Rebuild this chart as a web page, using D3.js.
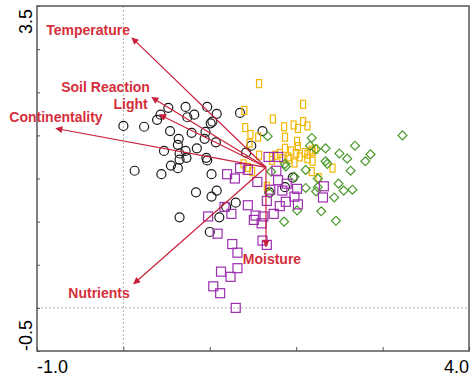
<!DOCTYPE html>
<html>
<head>
<meta charset="utf-8">
<script src="https://cdn.jsdelivr.net/npm/d3@7"></script>
<style>
	body { margin: 0; background: #fff; }
	svg { display: block; font-family: 'Liberation Sans', Arial, sans-serif; }
</style>
</head>
<body>
<div class="vis"></div>
<script>
'use strict';

// site groups, [axis 1, axis 2] scores
var blackSites = [
	[0.00, 2.11], [0.24, 2.10], [0.43, 2.24], [0.39, 2.18], [0.52, 2.32], [0.72, 2.33],
	[0.97, 2.33], [1.08, 2.25], [0.74, 2.21], [0.82, 2.24], [1.03, 2.16], [1.01, 2.14],
	[0.54, 2.05], [0.79, 2.03], [0.95, 2.04], [0.64, 1.96], [0.63, 1.89], [0.94, 1.96],
	[1.07, 1.92], [0.47, 1.82], [0.85, 1.85], [0.72, 1.82], [0.65, 1.79], [0.73, 1.74],
	[0.65, 1.72], [0.96, 1.74], [0.97, 1.71], [0.55, 1.65], [0.63, 1.62], [0.13, 1.59],
	[0.44, 1.55], [1.02, 1.55], [0.84, 1.34], [1.08, 1.36], [1.02, 1.29], [1.30, 1.22],
	[1.19, 1.17], [0.65, 1.05], [1.11, 1.05], [1.00, 0.88], [1.35, 2.26], [1.61, 2.05],
	[1.48, 1.88], [1.42, 1.80], [1.69, 1.34], [1.87, 1.40], [1.96, 1.51]
];

var yellowSites = [
	[1.57, 2.60], [1.40, 2.29], [2.08, 2.36], [1.73, 2.19], [1.41, 2.09], [1.86, 2.10],
	[1.97, 2.12], [2.02, 2.08], [2.08, 2.16], [2.13, 2.11], [1.47, 2.01], [1.56, 1.98],
	[1.87, 1.98], [2.01, 1.93], [1.46, 1.91], [1.87, 1.85], [1.94, 1.82], [2.02, 1.87],
	[2.00, 1.79], [2.13, 1.78], [2.18, 1.83], [2.22, 1.84], [2.19, 1.81], [1.57, 1.77],
	[1.72, 1.75], [1.76, 1.77], [1.91, 1.75], [2.04, 1.75], [1.72, 1.71], [1.84, 1.73],
	[1.92, 1.72], [2.13, 1.73], [2.19, 1.70], [1.39, 1.67], [1.49, 1.58], [2.18, 1.58],
	[2.42, 1.62], [2.26, 1.51], [1.66, 1.41], [1.98, 1.68], [1.44, 1.63], [1.81, 1.79],
	[2.10, 1.80]
];

var greenSites = [
	[3.23, 2.00], [2.18, 1.97], [2.16, 1.88], [2.23, 1.84], [2.34, 1.85], [2.68, 1.88],
	[2.50, 1.79], [2.86, 1.78], [2.59, 1.73], [2.80, 1.70], [2.34, 1.70], [2.36, 1.67],
	[2.63, 1.59], [2.11, 1.60], [2.25, 1.50], [2.49, 1.44], [1.98, 1.52], [2.11, 1.39],
	[2.25, 1.40], [2.23, 1.35], [2.55, 1.36], [2.65, 1.37], [2.44, 1.28], [2.29, 1.12],
	[2.01, 1.13], [2.46, 1.01], [1.67, 1.99], [1.88, 1.64], [1.71, 1.58], [1.69, 1.33],
	[1.86, 1.00], [1.87, 1.67]
];

var purpleSites = [
	[1.68, 1.75], [1.79, 1.75], [1.35, 1.62], [1.44, 1.60], [1.77, 1.59], [1.20, 1.55],
	[1.29, 1.50], [1.55, 1.46], [1.79, 1.48], [1.89, 1.44], [2.01, 1.38], [1.70, 1.37],
	[1.84, 1.36], [2.32, 1.41], [2.31, 1.28], [1.66, 1.24], [1.88, 1.23], [1.98, 1.29],
	[2.02, 1.20], [1.81, 1.18], [1.44, 1.19], [1.53, 1.07], [1.62, 1.06], [1.74, 1.09],
	[1.51, 1.02], [1.60, 0.98], [1.25, 1.09], [0.98, 1.06], [1.17, 1.17], [1.09, 0.86],
	[1.61, 0.78], [1.66, 0.73], [1.26, 0.74], [1.32, 0.64], [1.13, 0.42], [1.32, 0.46],
	[1.24, 0.36], [1.04, 0.25], [1.12, 0.17], [1.30, 0.00]
];

// environmental vectors, all drawn from one common origin
var vectorOrigin = [1.65, 1.63];
var vectorNames = ['Temperature', 'Soil Reaction', 'Light', 'Continentality', 'Nutrients', 'Moisture'];
var vectorEnds = [[0.10, 3.13], [0.33, 2.44], [0.42, 2.24], [-0.78, 2.08], [0.12, 0.28], [1.65, 0.71]];

var xDomain = [-1, 4];
var yDomain = [-0.5, 3.5];
var xTickLabels = ['-1.0', '4.0'];
var yTickLabels = ['-0.5', '3.5'];

(function ( window, document, undefined ) {

	var width = 474;
	var height = 384;
	var margin = { top: 6, right: 5, bottom: 33, left: 37 };

	var lineColor = '#c8203a';
	var textColor = '#d42f3b';

	// label placement relative to each arrow tip: anchor, dx, dy
	var labelPlace = {
		'Temperature': ['end', -2, -3],
		'Soil Reaction': ['end', -2, -5],
		'Light': ['end', -12, -6],
		'Continentality': ['middle', 0, -6],
		'Nutrients': ['end', -4, 14],
		'Moisture': ['middle', 6, 17]
	};

	var svg = d3.select('.vis')
		.append('svg')
			.attr('width', width)
			.attr('height', height);

	var x = d3.scaleLinear()
		.domain( xDomain )
		.range( [margin.left, width - margin.right] );

	var y = d3.scaleLinear()
		.domain( yDomain )
		.range( [height - margin.bottom, margin.top] );

	// dotted zero lines
	svg.append('line')
		.attr('x1', x(0)).attr('x2', x(0))
		.attr('y1', y.range()[1]).attr('y2', y.range()[0])
		.attr('stroke', '#b0b0b0')
		.attr('stroke-dasharray', '2,2');

	svg.append('line')
		.attr('x1', x.range()[0]).attr('x2', x.range()[1])
		.attr('y1', y(0)).attr('y2', y(0))
		.attr('stroke', '#b0b0b0')
		.attr('stroke-dasharray', '2,2');

	// inner ticks on bottom and left
	svg.append('g')
		.attr('transform', 'translate(0,' + y.range()[0] + ')')
		.call( d3.axisBottom( x ).ticks( 5 ).tickSize( -4 ).tickFormat('') )
		.call(function(g) { g.select('.domain').remove(); })
		.selectAll('line').attr('stroke', '#555');

	svg.append('g')
		.attr('transform', 'translate(' + x.range()[0] + ',0)')
		.call( d3.axisLeft( y ).tickValues( d3.range( -0.5, 3.51, 0.5 ) ).tickSize( -3 ).tickFormat('') )
		.call(function(g) { g.select('.domain').remove(); })
		.selectAll('line').attr('stroke', '#555');

	// frame
	svg.append('rect')
		.attr('x', x.range()[0])
		.attr('y', y.range()[1])
		.attr('width', x.range()[1] - x.range()[0])
		.attr('height', y.range()[0] - y.range()[1])
		.attr('fill', 'none')
		.attr('stroke', '#555')
		.attr('stroke-width', 1.5);

	// end labels of axes
	svg.selectAll('.xlab')
		.data( xTickLabels )
		.enter()
		.append('text')
			.attr('class', 'xlab')
			.attr('x', function(d, i) { return x( xDomain[i] ); })
			.attr('y', 373)
			.attr('text-anchor', function(d, i) { return i ? 'end' : 'start'; })
			.style('font-size', '18px')
			.text(function(d) { return d; });

	svg.selectAll('.ylab')
		.data( yTickLabels )
		.enter()
		.append('text')
			.attr('class', 'ylab')
			.attr('transform', function(d, i) { return 'translate(32,' + y( yDomain[i] ) + ') rotate(-90)'; })
			.attr('dx', function(d, i) { return i ? -3 : 0; })
			.attr('text-anchor', function(d, i) { return i ? 'end' : 'start'; })
			.style('font-size', '18px')
			.text(function(d) { return d; });

	// sites
	var sites = svg.append('g').attr('fill', 'none').attr('stroke-width', 1.2);

	sites.selectAll('.black')
		.data( blackSites )
		.enter()
		.append('circle')
			.attr('cx', function(d) { return x( d[0] ); })
			.attr('cy', function(d) { return y( d[1] ); })
			.attr('r', 4.5)
			.attr('stroke', '#1a1a1a');

	sites.selectAll('.yellow')
		.data( yellowSites )
		.enter()
		.append('rect')
			.attr('x', function(d) { return x( d[0] ) - 2.5; })
			.attr('y', function(d) { return y( d[1] ) - 4; })
			.attr('width', 5)
			.attr('height', 8)
			.attr('stroke', '#f2b705');

	sites.selectAll('.green')
		.data( greenSites )
		.enter()
		.append('path')
			.attr('d', d3.symbol( d3.symbolSquare, 40 ))
			.attr('transform', function(d) { return 'translate(' + x( d[0] ) + ',' + y( d[1] ) + ') rotate(45)'; })
			.attr('stroke', '#4a9a2c');

	sites.selectAll('.purple')
		.data( purpleSites )
		.enter()
		.append('rect')
			.attr('x', function(d) { return x( d[0] ) - 4.5; })
			.attr('y', function(d) { return y( d[1] ) - 4.5; })
			.attr('width', 9)
			.attr('height', 9)
			.attr('stroke', '#9b2fae');

	// arrows
	svg.append('defs')
		.append('marker')
			.attr('id', 'head')
			.attr('viewBox', '0 0 10 10')
			.attr('refX', 9)
			.attr('refY', 5)
			.attr('markerWidth', 8)
			.attr('markerHeight', 7)
			.attr('markerUnits', 'userSpaceOnUse')
			.attr('orient', 'auto')
		.append('path')
			.attr('d', 'M0,0L10,5L0,10z')
			.attr('fill', lineColor);

	var vectors = vectorNames.map(function(name, i) {
		return { name: name, end: vectorEnds[i] };
	});

	svg.selectAll('.vector')
		.data( vectors )
		.enter()
		.append('line')
			.attr('class', 'vector')
			.attr('x1', x( vectorOrigin[0] ))
			.attr('y1', y( vectorOrigin[1] ))
			.attr('x2', function(d) { return x( d.end[0] ); })
			.attr('y2', function(d) { return y( d.end[1] ); })
			.attr('stroke', lineColor)
			.attr('stroke-width', 1.2)
			.attr('marker-end', 'url(#head)');

	svg.selectAll('.vlab')
		.data( vectors )
		.enter()
		.append('text')
			.attr('class', 'vlab')
			.attr('x', function(d) { return x( d.end[0] ) + labelPlace[d.name][1]; })
			.attr('y', function(d) { return y( d.end[1] ) + labelPlace[d.name][2]; })
			.attr('text-anchor', function(d) { return labelPlace[d.name][0]; })
			.attr('fill', textColor)
			.style('font-size', '14px')
			.style('font-weight', 'bold')
			.text(function(d) { return d.name; });

})( this, document );
</script>
</body>
</html>
